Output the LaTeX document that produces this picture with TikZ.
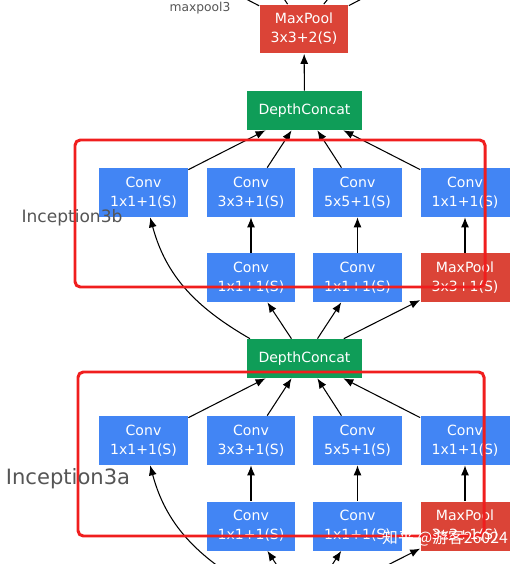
\documentclass[tikz,border=0pt]{standalone}
\usepackage{fontspec}
\setmainfont{DejaVu Sans}
\newfontfamily\cjkfont{Noto Sans CJK SC}
\usetikzlibrary{arrows.meta}
\definecolor{convblue}{RGB}{66,133,244}
\definecolor{poolred}{RGB}{219,68,55}
\definecolor{concatgreen}{RGB}{15,157,88}
\definecolor{framered}{RGB}{240,30,30}
\definecolor{labelgrey}{RGB}{85,85,85}
\begin{document}
\begin{tikzpicture}[x=0.02cm,y=-0.02cm,
    conv/.style={fill=convblue},
    pool/.style={fill=poolred},
    concat/.style={fill=concatgreen,minimum width=2.3cm,minimum height=0.78cm}]
    \useasboundingbox (0,0) rectangle (519,564);
    \clip (0,0) rectangle (519,564);
    \begin{scope}[every node/.style={rectangle,text=white,align=center,inner sep=0pt,
        font=\fontsize{8}{10.8}\selectfont,minimum width=1.78cm,minimum height=0.98cm}]
    \node[pool] (a) at (304,29) {MaxPool\\3x3+2(S)};
    \node[concat] (b) at (304.5,110.5) {DepthConcat};
    \node[conv] (c) at (143.5,192.5) {Conv\\1x1+1(S)};
    \node[conv] (d) at (251,192.5) {Conv\\3x3+1(S)};
    \node[conv] (e) at (357.5,192.5) {Conv\\5x5+1(S)};
    \node[conv] (f) at (465,192.5) {Conv\\1x1+1(S)};
    \node[conv] (g) at (251,277.5) {Conv\\1x1+1(S)};
    \node[conv] (h) at (357.5,277.5) {Conv\\1x1+1(S)};
    \node[pool] (i) at (465,277.5) {MaxPool\\3x3+1(S)};
    \node[concat] (j) at (304.5,358.5) {DepthConcat};
    \node[conv] (k) at (143.5,440.5) {Conv\\1x1+1(S)};
    \node[conv] (l) at (251,440.5) {Conv\\3x3+1(S)};
    \node[conv] (m) at (357.5,440.5) {Conv\\5x5+1(S)};
    \node[conv] (n) at (465,440.5) {Conv\\1x1+1(S)};
    \node[conv] (o) at (251,526) {Conv\\1x1+1(S)};
    \node[conv] (p) at (357.5,526) {Conv\\1x1+1(S)};
    \node[pool] (q) at (465,526) {MaxPool\\3x3+1(S)};
    \end{scope}
    \coordinate (r) at (304.5,607);
    \coordinate (s) at (251,587.5);
    \coordinate (u) at (190,-30);
    \coordinate (v) at (265,-30);
    \coordinate (w) at (351,-30);
    \coordinate (z) at (417,-30);
    \node[text=labelgrey,font=\fontsize{7}{8}\selectfont] (t) at (200,8) {maxpool3};
    \begin{scope}[every edge/.style={draw=black,line width=0.6pt,-{Latex[length=2mm,width=1.6mm]}}]
    \path (a) edge (u)
          (a) edge (v)
          (a) edge (w)
          (a) edge (z)
          (b) edge (a)
          (c) edge (b)
          (d) edge (b)
          (e) edge (b)
          (f) edge (b)
          (g) edge (d)
          (h) edge (e)
          (i) edge (f)
          (j.160) edge[out=150,in=-75] (c)
          (j) edge (g)
          (j) edge (h)
          (j) edge (i)
          (k) edge (j)
          (l) edge (j)
          (m) edge (j)
          (n) edge (j)
          (o) edge (l)
          (p) edge (m)
          (q) edge (n)
          (s) edge[out=150,in=-75] (k)
          (r) edge (o)
          (r) edge (p)
          (r) edge (q);
    \end{scope}
    \draw[framered,line width=1.7pt,rounded corners=3pt] (75,140) rectangle (485,287);
    \draw[framered,line width=1.7pt,rounded corners=3pt] (78,372) rectangle (484,536);
    \node[text=labelgrey,font=\fontsize{9.7}{11}\selectfont] (x) at (72,218) {Inception3b};
    \node[text=labelgrey,font=\fontsize{12}{14}\selectfont] (y) at (68,479) {Inception3a};
    \node[text=white,font=\cjkfont\fontsize{9}{10}\selectfont] (wm) at (445,538) {知乎 @游客26024};
\end{tikzpicture}
\end{document}
